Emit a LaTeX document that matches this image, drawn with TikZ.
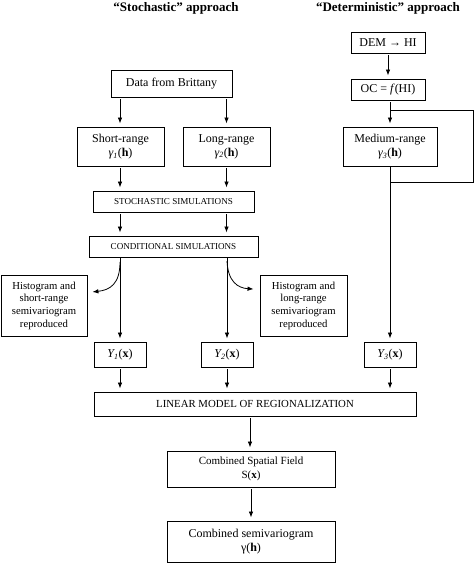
\documentclass[tikz,border=0pt]{standalone}
\usepackage{fontspec}
\setmainfont{Liberation Serif}
\usetikzlibrary{arrows.meta}
\tikzset{
  box/.style={draw, line width=0.9pt, align=center, inner sep=1pt},
  arr/.style={line width=0.8pt, -{Latex[length=6pt,width=4.5pt]}, shorten >=3pt, shorten <=2pt},
  ln/.style={line width=0.8pt},
  ttl/.style={font=\fontsize{13}{15}\selectfont\bfseries},
  t11/.style={font=\fontsize{12}{13.5}\selectfont},
  t10/.style={font=\fontsize{10.7}{12.7}\selectfont},
  caps/.style={font=\fontsize{9.1}{10}\selectfont},
}
\newcommand{\gsub}[1]{\textit{γ\textsubscript{#1}}(\textbf{h})}
\newcommand{\ysub}[1]{\textit{Y\textsubscript{#1}}(\textbf{x})}
\begin{document}
\begin{tikzpicture}[x=1pt,y=-1pt]
\useasboundingbox (0,0) rectangle (474,566);
% titles
\node[ttl] (tS) at (176,8) {“Stochastic” approach};
\node[ttl] (tD) at (388,8) {“Deterministic” approach};
% deterministic column
\node[box,t11,minimum width=74pt,minimum height=21pt] (dem) at (388,42.5) {DEM → HI};
\node[box,t11,minimum width=74pt,minimum height=21pt] (oc) at (388,89.5) {OC = \textit{f}(HI)};
\node[box,t11,minimum width=94pt,minimum height=39pt] (mr) at (390,146.5) {Medium-range\\[0.5pt]\gsub{3}};
% stochastic column
\node[box,t11,minimum width=121pt,minimum height=27pt] (data) at (171.5,83.5) {Data from Brittany};
\node[box,t11,minimum width=87pt,minimum height=39pt] (sr) at (120.5,146.5) {Short-range\\[0.5pt]\gsub{1}};
\node[box,t11,minimum width=87pt,minimum height=39pt] (lr) at (226.5,146.5) {Long-range\\[0.5pt]\gsub{2}};
\node[box,caps,minimum width=161pt,minimum height=21pt] (stoch) at (173.5,201.5) {STOCHASTIC SIMULATIONS};
\node[box,caps,minimum width=169pt,minimum height=21pt] (cond) at (173.5,246.5) {CONDITIONAL SIMULATIONS};
\node[box,t10,minimum width=86pt,minimum height=61pt] (hl) at (44,305.5) {Histogram and\\short-range\\semivariogram\\reproduced};
\node[box,t10,minimum width=87pt,minimum height=61pt] (hr) at (303.5,305.5) {Histogram and\\long-range\\semivariogram\\reproduced};
\node[box,t11,minimum width=52pt,minimum height=25pt] (y1) at (120,354.5) {\ysub{1}};
\node[box,t11,minimum width=52pt,minimum height=25pt] (y2) at (227,354.5) {\ysub{2}};
\node[box,t11,minimum width=52pt,minimum height=25pt] (y3) at (390,354.5) {\ysub{3}};
\node[box,font=\fontsize{10.8}{12}\selectfont,minimum width=322pt,minimum height=24pt] (lmr) at (255,404) {LINEAR MODEL OF REGIONALIZATION};
\node[box,font=\fontsize{11}{13.5}\selectfont,minimum width=168pt,minimum height=36pt] (csf) at (251,469) {Combined Spatial Field\\S(\textbf{x})};
\node[box,t11,minimum width=168pt,minimum height=41pt] (cs) at (251,541.5) {Combined semivariogram\\[1pt]γ(\textbf{h})};
% arrows deterministic
\draw[arr] (dem) -- (oc);
\draw[arr] (oc.south -| mr) -- (mr.north);
\coordinate (fbA) at (390,110);
\coordinate (fbB) at (473,182);
\draw[ln] (fbA) -| (fbB) -- (fbB -| mr.south);
\draw[arr,shorten <=0pt] (mr.south) -- (y3.north);
% arrows stochastic
\draw[arr] (data.south -| 120,0) -- (sr.north -| 120,0);
\draw[arr] (data.south -| lr) -- (lr.north);
\draw[arr] (sr.south -| 120,0) -- (stoch.north -| 120,0);
\draw[arr] (lr.south) -- (stoch.north -| lr);
\draw[arr] (stoch.south -| 120,0) -- (cond.north -| 120,0);
\draw[arr] (stoch.south -| lr) -- (cond.north -| lr);
\draw[arr,shorten <=0pt] (cond.south -| y1) -- (y1.north);
\draw[arr,shorten <=0pt] (cond.south -| y2) -- (y2.north);
% branches
\coordinate (bl) at (120,262);
\coordinate (blE) at (hl.east |- 0,292.5);
\draw[arr,shorten >=5pt,shorten <=0pt] (bl) .. controls (120,284) and (110,290) .. (blE);
\coordinate (br) at (227,261);
\coordinate (brE) at (hr.west |- 0,289.5);
\draw[arr,shorten >=6pt,shorten <=0pt] (br) .. controls (228,282) and (238,288) .. (brE);
% to linear model
\draw[arr] (y1) -- (lmr.north -| y1);
\draw[arr] (y2) -- (lmr.north -| y2);
\draw[arr] (y3) -- (lmr.north -| y3);
\draw[arr] (lmr.south -| 250,0) -- (csf.north -| 250,0);
\draw[arr] (csf.south -| 251,0) -- (cs.north -| 251,0);
\end{tikzpicture}
\end{document}
